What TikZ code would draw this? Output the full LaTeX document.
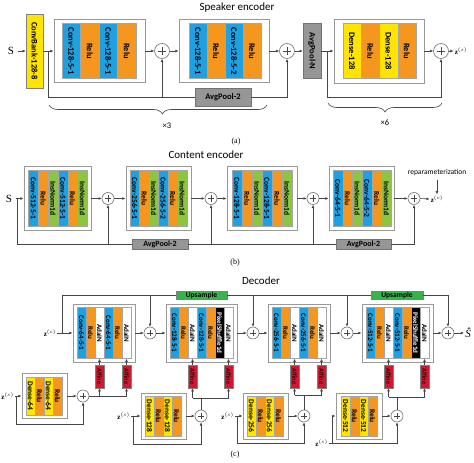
\documentclass[tikz,border=0pt]{standalone}
\usepackage{fontspec}
\usepackage{graphicx}
\setmainfont{Liberation Serif}
\newfontfamily\carl{Carlito}
\usetikzlibrary{arrows.meta,decorations.pathreplacing,calc}
\definecolor{cblue}{RGB}{30,160,225}
\definecolor{corange}{RGB}{245,150,30}
\definecolor{cyellow}{RGB}{255,228,0}
\definecolor{cgreen}{RGB}{140,198,63}
\definecolor{cgray}{RGB}{150,150,150}
\definecolor{cred}{RGB}{205,25,50}
\definecolor{cup}{RGB}{55,180,75}
\definecolor{cline}{RGB}{70,70,70}
\newcommand{\fsz}[1]{\fontsize{#1}{#1}\selectfont}
% #1 prefix, #2 xleft, #3 ycenter, #4 strip width, #5 font size, #6 height, #7 list
\newcommand{\mkstrips}[7]{%
  \foreach \stc/\stt [count=\sti] in {#7} {%
    \node[stripbox, fill=\stc, minimum width=#4pt, minimum height=#6pt, font={\carl\bfseries\fsz{#5}}] (#1-\sti) at ({#2+(\sti-0.5)*#4},#3) {\rotatebox{-90}{\stt}};
  }}
\tikzset{
 ln/.style={draw=cline, line width=0.6pt},
 arr/.style={ln, -{Latex[length=3.2pt,width=2.8pt]}},
 blk/.style={draw=black!40, fill=white, line width=0.9pt, inner sep=0pt},
 stripbox/.style={draw=black!35, line width=0.3pt, inner sep=0pt},
 graybox/.style={draw=black!55, fill=cgray, line width=0.5pt, inner sep=0pt, font=\carl\bfseries\fsz{8.5}},
 sumbig/.style={circle, draw=black!55, fill=white, line width=0.6pt, inner sep=0pt, minimum size=15pt,
   path picture={\draw[cline,line width=0.6pt] ([xshift=-4pt]path picture bounding box.center) -- ([xshift=4pt]path picture bounding box.center) ([yshift=-4pt]path picture bounding box.center) -- ([yshift=4pt]path picture bounding box.center);}},
 sumsm/.style={circle, draw=black!55, fill=white, line width=0.6pt, inner sep=0pt, minimum size=12pt,
   path picture={\draw[cline,line width=0.6pt] ([xshift=-3.2pt]path picture bounding box.center) -- ([xshift=3.2pt]path picture bounding box.center) ([yshift=-3.2pt]path picture bounding box.center) -- ([yshift=3.2pt]path picture bounding box.center);}},
 ttl/.style={font=\carl\fsz{11}},
 lab/.style={font=\fsz{8}},
 zl/.style={font=\fsz{7}, inner sep=1pt},
 affbox/.style={draw=black!50, fill=cred, line width=0.3pt, inner sep=0pt, minimum width=9pt, minimum height=23pt, font=\carl\fsz{6.5}},
 upbox/.style={draw=black!50, fill=cup, line width=0.4pt, inner sep=0pt, minimum width=51pt, minimum height=8pt, font=\carl\bfseries\fsz{7.5}},
 bracestyle/.style={ln, decorate},
}
\begin{document}
\begin{tikzpicture}[x=1pt,y=-1pt]
\fill[white] (0,0) rectangle (474,463);
\useasboundingbox (0,0) rectangle (474,463);

% ================= (a) Speaker encoder =================
\node[ttl] (t1) at (237,8) {Speaker encoder};
\node[font=\fsz{11}] (ss) at (11,51) {S};
\node[draw=black!50, fill=cyellow, line width=0.5pt, inner sep=0pt, minimum width=17pt, minimum height=74pt, font=\carl\bfseries\fsz{8.5}] (scb) at (34.5,51) {\rotatebox{-90}{ConvBank-128-8}};
\node[blk, minimum width=91pt, minimum height=63pt] (sb1) at (99.5,51) {};
\mkstrips{sb1}{62}{51}{18.5}{8.5}{55}{cblue/Conv-128-5-1,corange/Relu,cblue/Conv-128-5-1,corange/Relu}
\node[sumbig] (sp1) at (162,51) {};
\node[blk, minimum width=90pt, minimum height=63pt] (sb2) at (224,51) {};
\mkstrips{sb2}{189}{51}{18}{8.5}{55}{cblue/Conv-128-5-1,corange/Relu,cblue/Conv-128-5-2,corange/Relu}
\node[sumbig] (sp2) at (287,51) {};
\node[graybox, minimum width=18pt, minimum height=55pt] (sapn) at (312,51) {\rotatebox{-90}{AvgPool-N}};
\node[blk, minimum width=90pt, minimum height=64pt] (sb3) at (379,51) {};
\mkstrips{sb3}{343}{51}{18.25}{8.5}{55}{cyellow/Dense-128,corange/Relu,cyellow/Dense-128,corange/Relu}
\node[sumbig] (sp3) at (441,51) {};
\node[zl] (szs) at (461,51) {$\mathbf{z}^{(s)}$};
\node[graybox, minimum width=56pt, minimum height=18pt] (sap2) at (223,97) {AvgPool-2};

\draw[arr] (ss.east) -- (scb.west);
\draw[arr] (scb.east) -- (sb1.west);
\draw[arr] (sb1.east) -- (sp1.west);
\draw[arr] (sp1.east) -- (sb2.west);
\draw[arr] (sb2.east) -- (sp2.west);
\draw[arr] (sp2.east) -- (sapn.west);
\draw[arr] (sapn.east) -- (sb3.west);
\draw[arr] (sb3.east) -- (sp3.west);
\draw[arr] (sp3.east) -- (szs.west);
\coordinate (sk1) at (48,51);
\draw[ln] (sk1) |- (sap2.west);
\draw[arr] (sp1 |- sap2) -- (sp1.south);
\draw[arr] (sap2.east) -| (sp2.south);
\coordinate (sk2) at (327,51);
\draw[arr] (sk2) -- (sk2 |- sap2) -| (sp3.south);

\coordinate (b1a) at (49,105);
\coordinate (b1b) at (267,105);
\draw[bracestyle, decoration={brace, mirror, amplitude=9pt, aspect=0.52}] (b1a) -- (b1b);
\node[font=\carl\fsz{8.5}] (x3) at (167,126) {×3};
\coordinate (b2a) at (328,103);
\coordinate (b2b) at (442,103);
\draw[bracestyle, decoration={brace, mirror, amplitude=9pt}] (b2a) -- (b2b);
\node[font=\carl\fsz{8.5}] (x6) at (385,123) {×6};
\node[lab] (la) at (236,142) {(a)};

% ================= (b) Content encoder =================
\node[ttl] (t2) at (206,155) {Content encoder};
\node[font=\fsz{11}] (cs) at (9,198.5) {S};
\node[blk, minimum width=67pt, minimum height=64pt] (cb1) at (57.5,198.5) {};
\mkstrips{cb1}{28.5}{198.5}{9.8}{7.5}{56}{cblue/Conv-512-5-1,corange/Relu,cgreen/InsNorm1d,cblue/Conv-512-5-1,corange/Relu,cgreen/InsNorm1d}
\node[sumsm] (cp1) at (108,198.5) {};
\node[blk, minimum width=65pt, minimum height=64pt] (cb2) at (158.5,198.5) {};
\mkstrips{cb2}{130}{198.5}{9.5}{7.5}{56}{cblue/Conv-256-5-1,corange/Relu,cgreen/InsNorm1d,cblue/Conv-256-5-2,corange/Relu,cgreen/InsNorm1d}
\node[sumsm] (cp2) at (211,198.5) {};
\node[blk, minimum width=70pt, minimum height=64pt] (cb3) at (262,198.5) {};
\mkstrips{cb3}{232}{198.5}{10}{7.5}{56}{cblue/Conv-128-5-1,corange/Relu,cgreen/InsNorm1d,cblue/Conv-128-5-1,corange/Relu,cgreen/InsNorm1d}
\node[sumsm] (cp3) at (313,198.5) {};
\node[blk, minimum width=65pt, minimum height=64pt] (cb4) at (361.5,198.5) {};
\mkstrips{cb4}{333}{198.5}{9.7}{7.5}{56}{cblue/Conv-64-5-1,corange/Relu,cgreen/InsNorm1d,cblue/Conv-64-5-2,corange/Relu,cgreen/InsNorm1d}
\node[sumsm] (cp4) at (414,198.5) {};
\node[zl] (czc) at (437,199) {$\mathbf{z}^{(c)}$};
\node[font=\carl\fsz{7.5}] (rep) at (437,173) {reparameterization};
\node[graybox, minimum width=56pt, minimum height=10pt, font=\carl\bfseries\fsz{8}] (cap1) at (160,244) {AvgPool-2};
\node[graybox, minimum width=55pt, minimum height=10pt, font=\carl\bfseries\fsz{8}] (cap2) at (363.5,244) {AvgPool-2};

\draw[arr] (cs.east) -- (cb1.west);
\draw[arr] (cb1.east) -- (cp1.west);
\draw[arr] (cp1.east) -- (cb2.west);
\draw[arr] (cb2.east) -- (cp2.west);
\draw[arr] (cp2.east) -- (cb3.west);
\draw[arr] (cb3.east) -- (cp3.west);
\draw[arr] (cp3.east) -- (cb4.west);
\draw[arr] (cb4.east) -- (cp4.west);
\draw[arr] (cp4.east) -- (czc.west);
\draw[arr] (rep.south) -- (rep.south |- czc.north);
\coordinate (ck) at (17,198.5);
\draw[ln] (ck) |- (cap1.west);
\draw[ln] (cap1.east) -- (cap2.west);
\draw[arr] (cap2.east) -| (cp4.south);
\draw[arr] (cp1 |- cap1) -- (cp1.south);
\draw[arr] (cp2 |- cap1) -- (cp2.south);
\draw[arr] (cp3 |- cap1) -- (cp3.south);
\node[lab] (lb) at (235,263) {(b)};

% ================= (c) Decoder =================
\node[ttl] (t3) at (261,281) {Decoder};
\node[upbox] (up1) at (201.5,295) {Upsample};
\node[upbox, minimum width=52pt] (up2) at (397,295) {Upsample};
\node[zl] (dzc) at (50,333) {$\mathbf{z}^{(c)}$};
\node[blk, minimum width=62pt, minimum height=58pt] (db1) at (104,333) {};
\mkstrips{db1}{77}{333}{9}{7}{51}{cblue/Conv-64-5-1,corange/Relu,white/AdaIN,cblue/Conv-64-5-1,corange/Relu,white/AdaIN}
\node[sumsm] (dp1) at (150,333) {};
\node[blk, minimum width=71pt, minimum height=58pt] (db2) at (201.5,333) {};
\mkstrips{db2}{170}{333}{9}{7}{51}{cblue/Conv-128-5-1,corange/Relu,white/AdaIN,cblue/Conv-128-5-1,corange/Relu,black/{\color{white}PixelShuffle1d},white/AdaIN}
\node[sumsm] (dp2) at (253,333) {};
\node[blk, minimum width=62pt, minimum height=58pt] (db3) at (299,333) {};
\mkstrips{db3}{272}{333}{9}{7}{51}{cblue/Conv-256-5-1,corange/Relu,white/AdaIN,cblue/Conv-256-5-1,corange/Relu,white/AdaIN}
\node[sumsm] (dp3) at (347,333) {};
\node[blk, minimum width=71pt, minimum height=58pt] (db4) at (397.5,333) {};
\mkstrips{db4}{366}{333}{9}{7}{51}{cblue/Conv-512-5-1,corange/Relu,white/AdaIN,cblue/Conv-512-5-1,corange/Relu,black/{\color{white}PixelShuffle1d},white/AdaIN}
\node[sumsm] (dp4) at (448,333) {};
\node[font=\fsz{11}\itshape, inner sep=1pt] (dsh) at (468,333) {Ŝ};

\draw[arr] (dzc.east) -- (db1.west);
\draw[arr] (db1.east) -- (dp1.west);
\draw[arr] (dp1.east) -- (db2.west);
\draw[arr] (db2.east) -- (dp2.west);
\draw[arr] (dp2.east) -- (db3.west);
\draw[arr] (db3.east) -- (dp3.west);
\draw[arr] (dp3.east) -- (db4.west);
\draw[arr] (db4.east) -- (dp4.west);
\draw[arr] (dp4.east) -- (dsh.west);
\coordinate (dj) at (62,333);
\draw[ln] (dj) |- (up1.west);
\draw[ln] (up1.east) -- (up2.west);
\draw[arr] (up2.east) -| (dp4.north);
\draw[arr] (dp1 |- up1) -- (dp1.north);
\draw[arr] (dp2 |- up1) -- (dp2.north);
\draw[arr] (dp3 |- up1) -- (dp3.north);

% Affine boxes
\coordinate (afy) at (0,376.5);
\node[affbox] (af11) at (db1-3 |- afy) {\rotatebox{-90}{Affine}};
\node[affbox] (af12) at (db1-6 |- afy) {\rotatebox{-90}{Affine}};
\node[affbox] (af21) at (db2-3 |- afy) {\rotatebox{-90}{Affine}};
\node[affbox] (af22) at (db2-7 |- afy) {\rotatebox{-90}{Affine}};
\node[affbox] (af31) at (db3-3 |- afy) {\rotatebox{-90}{Affine}};
\node[affbox] (af32) at (db3-6 |- afy) {\rotatebox{-90}{Affine}};
\node[affbox] (af41) at (db4-3 |- afy) {\rotatebox{-90}{Affine}};
\node[affbox] (af42) at (db4-7 |- afy) {\rotatebox{-90}{Affine}};
\draw[arr] (af11) -- (db1-3);
\draw[arr] (af12) -- (db1-6);
\draw[arr] (af21) -- (db2-3);
\draw[arr] (af22) -- (db2-7);
\draw[arr] (af31) -- (db3-3);
\draw[arr] (af32) -- (db3-6);
\draw[arr] (af41) -- (db4-3);
\draw[arr] (af42) -- (db4-7);

% Dense block 1
\node[blk, minimum width=45pt, minimum height=45pt] (dd1) at (44.5,396) {};
\mkstrips{dd1}{26}{396}{9}{7.5}{38}{cyellow/Dense-64,corange/Relu,cyellow/Dense-64,corange/Relu}
\node[sumsm] (dq1) at (83,396) {};
\node[zl, anchor=east] (dzs1) at (15,396) {$\mathbf{z}^{(s)}$};
\coordinate (dj1) at (16,396);
\draw[arr] (dzs1.east) -- (dd1.west);
\draw[arr] (dj1) -- ++(0,28) -| (dq1.south);
\draw[arr] (dd1.east) -- (dq1.west);
\draw[ln] (dq1.east) -- (af12 |- dq1);
\draw[arr] (af11 |- dq1) -- (af11);
\draw[arr] (af12 |- dq1) -- (af12);

% Dense block 2
\node[blk, minimum width=45pt, minimum height=46pt] (dd2) at (163.5,416) {};
\mkstrips{dd2}{145}{416}{9}{7.5}{40}{cyellow/Dense-128,corange/Relu,cyellow/Dense-128,corange/Relu}
\node[sumsm] (dq2) at (201,416) {};
\node[zl, anchor=east] (dzs2) at (131,416) {$\mathbf{z}^{(s)}$};
\coordinate (dj2) at (133,416);
\coordinate (hy2) at (0,398);
\draw[arr] (dzs2.east) -- (dd2.west);
\draw[arr] (dj2) -- ++(0,28) -| (dq2.south);
\draw[arr] (dd2.east) -- (dq2.west);
\draw[ln] (dq2.north) -- (dq2 |- hy2);
\draw[ln] (af21 |- hy2) -- (af22 |- hy2);
\draw[arr] (af21 |- hy2) -- (af21);
\draw[arr] (af22 |- hy2) -- (af22);

% Dense block 3
\node[blk, minimum width=45pt, minimum height=46pt] (dd3) at (265.5,416) {};
\mkstrips{dd3}{247}{416}{9}{7.5}{40}{cyellow/Dense-256,corange/Relu,cyellow/Dense-256,corange/Relu}
\node[sumsm] (dq3) at (304,416) {};
\node[zl, anchor=east] (dzs3) at (235,416) {$\mathbf{z}^{(s)}$};
\coordinate (dj3) at (237,416);
\coordinate (hy3) at (0,395);
\draw[arr] (dzs3.east) -- (dd3.west);
\draw[arr] (dj3) -- ++(0,27) -| (dq3.south);
\draw[arr] (dd3.east) -- (dq3.west);
\draw[ln] (dq3.north) -- (dq3 |- hy3);
\draw[ln] (af31 |- hy3) -- (af32 |- hy3);
\draw[arr] (af31 |- hy3) -- (af31);
\draw[arr] (af32 |- hy3) -- (af32);

% Dense block 4
\node[blk, minimum width=46pt, minimum height=46pt] (dd4) at (359,416) {};
\mkstrips{dd4}{341}{416}{9}{7.5}{40}{cyellow/Dense-512,corange/Relu,cyellow/Dense-512,corange/Relu}
\node[sumsm] (dq4) at (397,416) {};
\coordinate (dj4) at (332,443);
\node[zl, anchor=east] (dzs4) at (329,443) {$\mathbf{z}^{(s)}$};
\coordinate (hy4) at (0,397);
\draw[ln] (dzs4.east) -- (dj4);
\draw[arr] (dj4) |- (dd4.west);
\draw[arr] (dj4) -| (dq4.south);
\draw[arr] (dd4.east) -- (dq4.west);
\draw[ln] (dq4.north) -- (dq4 |- hy4);
\draw[ln] (af41 |- hy4) -- (af42 |- hy4);
\draw[arr] (af41 |- hy4) -- (af41);
\draw[arr] (af42 |- hy4) -- (af42);

\node[lab] (lc) at (235,455) {(c)};
\end{tikzpicture}
\end{document}
